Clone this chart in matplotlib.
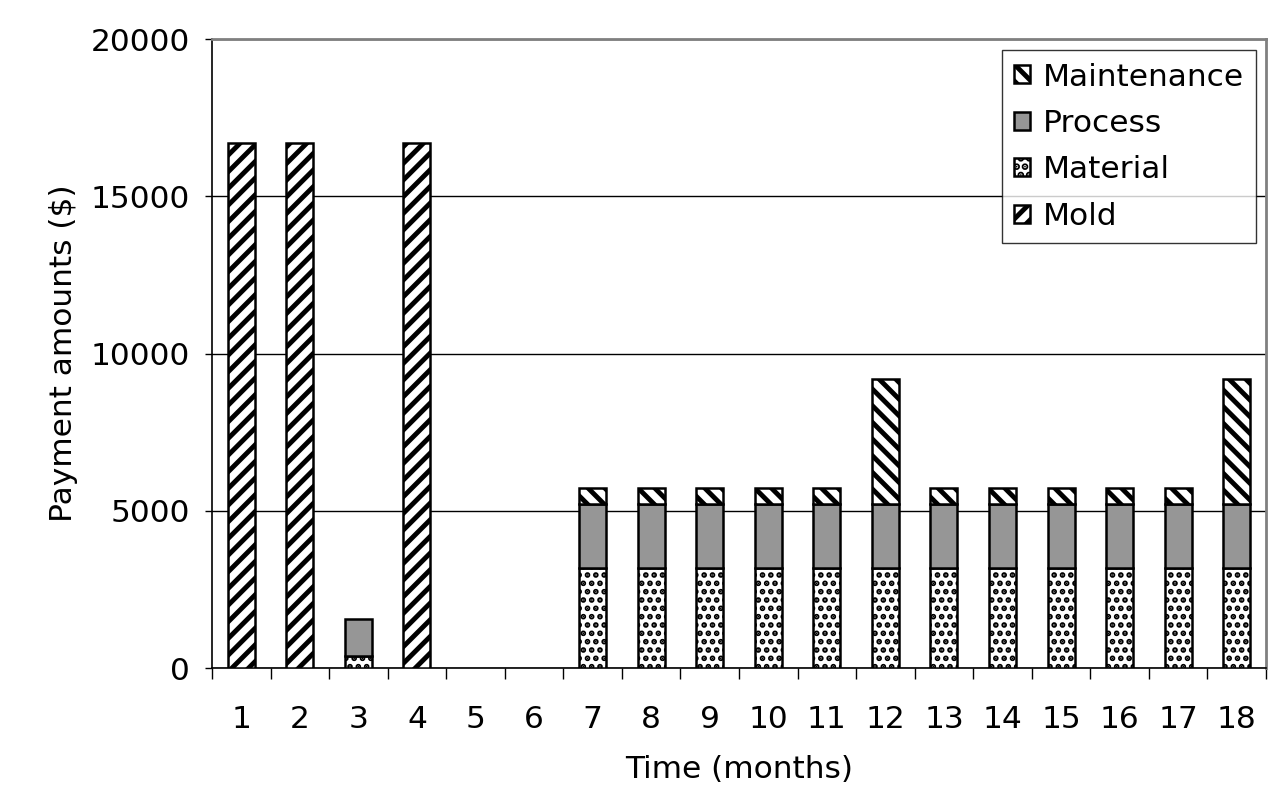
import matplotlib
matplotlib.use("Agg")
import matplotlib.pyplot as plt
import numpy as np

months = [str(i) for i in range(1, 19)]
mold =        [16700, 16700, 0, 16700, 0, 0, 0, 0, 0, 0, 0, 0, 0, 0, 0, 0, 0, 0]
material =    [0, 0, 380, 0, 0, 0, 3190, 3190, 3190, 3190, 3190, 3190, 3190, 3190, 3190, 3190, 3190, 3190]
process =     [0, 0, 1180, 0, 0, 0, 2040, 2040, 2040, 2040, 2040, 2040, 2040, 2040, 2040, 2040, 2040, 2040]
maintenance = [0, 0, 0, 0, 0, 0, 480, 480, 480, 480, 480, 3950, 480, 480, 480, 480, 480, 3950]

plt.rcParams['font.family'] = ['DejaVu Sans']
plt.rcParams['hatch.linewidth'] = 3.5
plt.rcParams['hatch.color'] = 'black'

fig = plt.figure(figsize=(12.81, 8.05), dpi=100)
ax = fig.add_axes([212/1281, 1-668/805, (1266-212)/1281, (668-39)/805])

x = np.arange(1, 19)
width = 0.46
FS = 22.5
series = [
    ("Mold", mold, dict(facecolor='white', hatch='//'), 3.5),
    ("Material", material, dict(facecolor='white', hatch='..'), 2.8),
    ("Process", process, dict(facecolor='#969696', hatch=None), 3.5),
    ("Maintenance", maintenance, dict(facecolor='white', hatch='\\\\'), 3.5),
]
bottom = np.zeros(18)
handles = {}
for name, vals, style, hlw in series:
    vals = np.array(vals, dtype=float)
    mask = vals > 0
    with plt.rc_context({'hatch.linewidth': hlw}):
        bc = ax.bar(x[mask], vals[mask], width, bottom=bottom[mask], edgecolor='black',
                    linewidth=1.8, label=name, zorder=3, **style)
    handles[name] = bc
    bottom += vals

ax.set_xlim(0.5, 18.5)
ax.set_ylim(0, 20000)
ax.set_yticks([0, 5000, 10000, 15000, 20000])
ax.yaxis.grid(True, color='black', linewidth=1.0, zorder=0)
ax.set_axisbelow(True)

ax.set_xticks(x)
ax.set_xticklabels(months)
ax.set_xticks(np.arange(0.5, 19, 1), minor=True)
ax.tick_params(axis='x', which='major', length=0, pad=27, labelsize=FS)
ax.tick_params(axis='x', which='minor', length=8, width=1, color='black', direction='out')
ax.tick_params(axis='y', which='major', length=5, width=1, labelsize=FS, pad=11)

for s in ['top', 'right']:
    ax.spines[s].set_color('#808080')
    ax.spines[s].set_linewidth(2)
for s in ['left', 'bottom']:
    ax.spines[s].set_color('black')
    ax.spines[s].set_linewidth(1.2)

ax.set_xlabel('Time (months)', fontsize=FS, labelpad=15)
ax.set_ylabel('Payment amounts ($)', fontsize=FS, labelpad=9)

order = ["Maintenance", "Process", "Material", "Mold"]
leg = ax.legend([handles[n] for n in order], order, loc='upper right',
                bbox_to_anchor=(1256/1281, 1-50/805), bbox_transform=fig.transFigure,
                fontsize=FS, frameon=True, fancybox=False, edgecolor='black',
                handlelength=0.5, handleheight=0.5, handletextpad=0.4,
                labelspacing=0.56, borderpad=0.4, borderaxespad=0)
leg.get_frame().set_linewidth(1.0)

fig.savefig('out.png', dpi=100)
